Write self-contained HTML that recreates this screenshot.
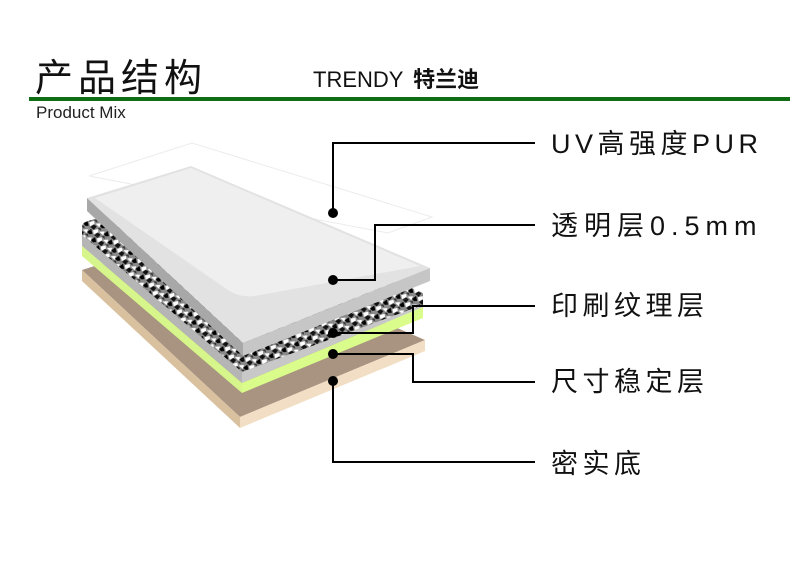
<!DOCTYPE html>
<html><head><meta charset="utf-8"><style>
html,body{margin:0;padding:0;background:#fff;}
body{width:790px;height:568px;position:relative;overflow:hidden;font-family:"Liberation Sans","Noto Sans CJK SC",sans-serif;}
.t{position:absolute;white-space:nowrap;color:#111;}
.l{font-size:27px;letter-spacing:4.5px;}
</style></head><body>
<svg width="790" height="568" style="position:absolute;left:0;top:0">
<defs>
<pattern id="pt" width="14" height="9" patternUnits="userSpaceOnUse" patternTransform="rotate(-25)">
<rect width="14" height="9" fill="#8a8a8a"/>
<path d="M0 1 L4 0 L6 3 L2 5 Z" fill="#111"/>
<path d="M6 0 L11 2 L8 5 Z" fill="#fff"/>
<path d="M9 4 L14 3 L13 8 L10 7 Z" fill="#000"/>
<path d="M1 5 L6 6 L5 9 L0 9 Z" fill="#fff"/>
<path d="M6 5 L9 6 L8 9 Z" fill="#333"/>
</pattern>
</defs>
<rect x="29" y="97" width="761" height="4" fill="#0f6e14"/>
<!-- base -->
<polygon points="82,270 186,237 425,340 240,417" fill="#a89480"/>
<polygon points="82,270 240,417 240,428 82,281" fill="#d9c1a0"/>
<polygon points="240,417 425,340 425,351 240,428" fill="#f2dec4"/>
<!-- layer 2 -->
<polygon points="82,223 186,190 423,293 242,360" fill="url(#pt)"/>
<polygon points="82,223 242,360 242,372 82,235" fill="url(#pt)"/>
<polygon points="242,360 423,293 423,305 242,372" fill="url(#pt)"/>
<polygon points="82,235 242,372 242,383 82,246" fill="#b5b5b5"/>
<polygon points="242,372 423,305 423,307 242,383" fill="#c8c8c8"/>
<polygon points="82,246 242,383 242,393 82,256" fill="#d6f58a"/>
<polygon points="242,383 423,307 423,318 242,393" fill="#d9fc8a"/>
<!-- clear sheet -->
<polygon points="89,176 192,143 432,217 388,233" fill="none" stroke="#ececec" stroke-width="1"/>
<!-- top layer -->
<polygon points="87,198 191,166 430,268 243,343" fill="#e2e2e2"/>
<path d="M95,198 L191,168 L420,266 L255,296 Q240,298 228,290 Z" fill="#efefef"/>
<polygon points="87,198 243,343 243,356 87,211" fill="#a8a8a8"/>
<polygon points="243,343 430,268 430,281 243,356" fill="#c6c6c6"/>
<!-- connectors -->
<g stroke="#000" stroke-width="2" fill="none">
<polyline points="333,213 333,143 535,143"/>
<polyline points="333,280 375,280 375,225 535,225"/>
<polyline points="333,333 413,333 413,306 535,306"/>
<polyline points="333,354 413,354 413,382 535,382"/>
<polyline points="333,381 333,462 535,462"/>
</g>
<g fill="#000">
<circle cx="333" cy="213" r="5"/><circle cx="333" cy="280" r="5"/>
<circle cx="333" cy="333" r="5"/><circle cx="333" cy="354" r="5"/>
<circle cx="333" cy="381" r="5"/>
</g>
</svg>
<div class="t" style="left:35px;top:47px;font-size:38px;letter-spacing:5px;">产品结构</div>
<div class="t" style="left:313px;top:62px;font-size:22px;">TRENDY <b style="margin-left:4px">特兰迪</b></div>
<div class="t" style="left:36px;top:103px;font-size:17px;color:#222;">Product Mix</div>
<div class="t l" style="left:551px;top:122px;">UV高强度PUR</div>
<div class="t l" style="left:551px;top:204px;letter-spacing:6px;">透明层0.5mm</div>
<div class="t l" style="left:551px;top:284px;">印刷纹理层</div>
<div class="t l" style="left:551px;top:360px;">尺寸稳定层</div>
<div class="t l" style="left:551px;top:442px;">密实底</div>
</body></html>
